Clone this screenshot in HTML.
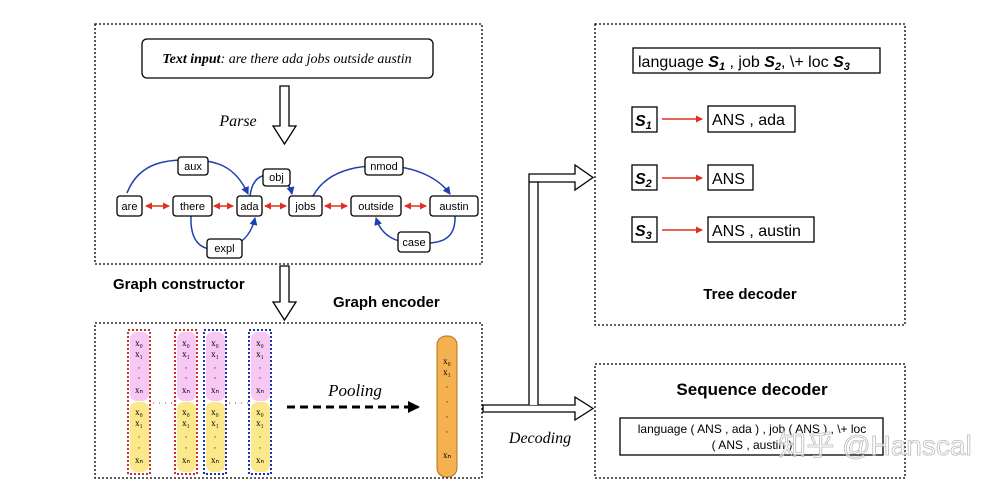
<!DOCTYPE html>
<html><head><meta charset="utf-8"><style>
body{margin:0;background:#fff;}
svg{display:block;font-family:"Liberation Sans",sans-serif;}
.n{fill:#fff;stroke:#000;stroke-width:1.3}
.t{font-size:11px;text-anchor:middle}
.b{fill:none;stroke:#1f3fb0;stroke-width:1.5}
.r{stroke:#e0301e;stroke-width:1.5}
.d{fill:none;stroke:#000;stroke-width:1.3;stroke-dasharray:2,2}
.x{font-size:9px;text-anchor:middle;font-family:"Liberation Serif",serif}
</style></head><body>
<svg width="1004" height="487" viewBox="0 0 1004 487">
<defs>
<marker id="ab" markerWidth="8" markerHeight="8" refX="7" refY="4" orient="auto" markerUnits="userSpaceOnUse"><path d="M0,0L8,4L0,8z" fill="#1f3fb0"/></marker>
<marker id="ar" markerWidth="7" markerHeight="7" refX="6" refY="3.5" orient="auto" markerUnits="userSpaceOnUse"><path d="M0,0L7,3.5L0,7z" fill="#e0301e"/></marker>
<marker id="ar2" markerWidth="7" markerHeight="7" refX="1" refY="3.5" orient="auto" markerUnits="userSpaceOnUse"><path d="M7,0L0,3.5L7,7z" fill="#e0301e"/></marker>
<marker id="ak" markerWidth="12" markerHeight="12" refX="10" refY="6" orient="auto" markerUnits="userSpaceOnUse"><path d="M0,0L12,6L0,12z" fill="#000"/></marker>
</defs>
<rect x="95" y="24" width="387" height="240" class="d"/>
<rect x="142" y="39" width="291" height="39" rx="5" class="n"/>
<text x="287" y="63" font-size="14" text-anchor="middle" font-family="Liberation Serif,serif" font-style="italic"><tspan font-weight="bold">Text input</tspan>: are there ada jobs outside austin</text>
<text x="238" y="126" font-size="16" text-anchor="middle" font-family="Liberation Serif,serif" font-style="italic">Parse</text>
<path d="M280,86h9v40h7l-11.5,18l-11.5,-18h7z" fill="#fff" stroke="#000" stroke-width="1.3"/>
<path class="b" d="M127,193 C140,160 170,160 190,160 C215,160 235,165 248,194" marker-end="url(#ab)"/>
<path class="b" d="M250,196 C252,180 260,172 276,176 C285,180 290,185 292,194" marker-end="url(#ab)"/>
<path class="b" d="M313,196 C330,165 370,165 390,166 C420,168 440,180 450,194" marker-end="url(#ab)"/>
<path class="b" d="M191,216 C190,240 200,250 215,249 C235,249 250,240 255,218" marker-end="url(#ab)"/>
<path class="b" d="M455,216 C456,240 440,244 420,243 C400,243 383,240 376,218" marker-end="url(#ab)"/>
<g class="r" marker-start="url(#ar2)" marker-end="url(#ar)">
<line x1="146" y1="206" x2="169" y2="206"/><line x1="214" y1="206" x2="233" y2="206"/>
<line x1="265" y1="206" x2="286" y2="206"/><line x1="325" y1="206" x2="347" y2="206"/>
<line x1="405" y1="206" x2="426" y2="206"/>
</g>
<g>
<rect x="117" y="196" width="25" height="20" rx="3" class="n"/><text x="129.5" y="210" class="t">are</text>
<rect x="173" y="196" width="39" height="20" rx="3" class="n"/><text x="192.5" y="210" class="t">there</text>
<rect x="237" y="196" width="25" height="20" rx="3" class="n"/><text x="249.5" y="210" class="t">ada</text>
<rect x="289" y="196" width="33" height="20" rx="3" class="n"/><text x="305.5" y="210" class="t">jobs</text>
<rect x="351" y="196" width="50" height="20" rx="3" class="n"/><text x="376" y="210" class="t">outside</text>
<rect x="430" y="196" width="48" height="20" rx="3" class="n"/><text x="454" y="210" class="t">austin</text>
<rect x="178" y="157" width="30" height="18" rx="3" class="n"/><text x="193" y="170" class="t">aux</text>
<rect x="263" y="169" width="27" height="17" rx="3" class="n"/><text x="276.5" y="181" class="t">obj</text>
<rect x="365" y="157" width="38" height="18" rx="3" class="n"/><text x="384" y="170" class="t">nmod</text>
<rect x="207" y="239" width="35" height="19" rx="3" class="n"/><text x="224.5" y="252" class="t">expl</text>
<rect x="398" y="232" width="32" height="20" rx="3" class="n"/><text x="414" y="246" class="t">case</text>
</g>
<text x="113" y="289" font-size="15" font-weight="bold">Graph constructor</text>
<path d="M280,266h9v36h7l-11.5,18l-11.5,-18h7z" fill="#fff" stroke="#000" stroke-width="1.3"/>
<text x="333" y="307" font-size="15" font-weight="bold">Graph encoder</text>
<rect x="95" y="323" width="387" height="155" class="d"/>
<g>
<rect x="130" y="332" width="19" height="69" rx="7" fill="#f6c8f3"/><rect x="130" y="402" width="19" height="70" rx="7" fill="#fbe88a"/>
<rect x="177" y="332" width="19" height="69" rx="7" fill="#f6c8f3"/><rect x="177" y="402" width="19" height="70" rx="7" fill="#fbe88a"/>
<rect x="206" y="332" width="19" height="69" rx="7" fill="#f6c8f3"/><rect x="206" y="402" width="19" height="70" rx="7" fill="#fbe88a"/>
<rect x="251" y="332" width="19" height="69" rx="7" fill="#f6c8f3"/><rect x="251" y="402" width="19" height="70" rx="7" fill="#fbe88a"/>
<rect x="128" y="330" width="22" height="144" fill="none" stroke="#d0302a" stroke-width="2" stroke-dasharray="2,2"/>
<rect x="175" y="330" width="22" height="144" fill="none" stroke="#d0302a" stroke-width="2" stroke-dasharray="2,2"/>
<rect x="204" y="330" width="22" height="144" fill="none" stroke="#2030b0" stroke-width="2" stroke-dasharray="2,2"/>
<rect x="249" y="330" width="22" height="144" fill="none" stroke="#2030b0" stroke-width="2" stroke-dasharray="2,2"/>
</g>
<g class="x">
<text x="139" y="346">x₀</text><text x="139" y="357">x₁</text><text x="139" y="371">·</text><text x="139" y="381">·</text><text x="139" y="393">xₙ</text>
<text x="139" y="415">x₀</text><text x="139" y="426">x₁</text><text x="139" y="440">·</text><text x="139" y="451">·</text><text x="139" y="463">xₙ</text>
<text x="186" y="346">x₀</text><text x="186" y="357">x₁</text><text x="186" y="371">·</text><text x="186" y="381">·</text><text x="186" y="393">xₙ</text>
<text x="186" y="415">x₀</text><text x="186" y="426">x₁</text><text x="186" y="440">·</text><text x="186" y="451">·</text><text x="186" y="463">xₙ</text>
<text x="215" y="346">x₀</text><text x="215" y="357">x₁</text><text x="215" y="371">·</text><text x="215" y="381">·</text><text x="215" y="393">xₙ</text>
<text x="215" y="415">x₀</text><text x="215" y="426">x₁</text><text x="215" y="440">·</text><text x="215" y="451">·</text><text x="215" y="463">xₙ</text>
<text x="260" y="346">x₀</text><text x="260" y="357">x₁</text><text x="260" y="371">·</text><text x="260" y="381">·</text><text x="260" y="393">xₙ</text>
<text x="260" y="415">x₀</text><text x="260" y="426">x₁</text><text x="260" y="440">·</text><text x="260" y="451">·</text><text x="260" y="463">xₙ</text>
</g>
<line x1="153" y1="403" x2="173" y2="403" stroke="#555" stroke-dasharray="1,5"/>
<line x1="229" y1="403" x2="248" y2="403" stroke="#555" stroke-dasharray="1,5"/>
<rect x="437" y="336" width="20" height="141" rx="9" fill="#f5b050" stroke="#b07020" stroke-width="1"/>
<g class="x"><text x="447" y="364">x₀</text><text x="447" y="375">x₁</text><text x="447" y="390">·</text><text x="447" y="405">·</text><text x="447" y="420">·</text><text x="447" y="435">·</text><text x="447" y="458">xₙ</text></g>
<text x="355" y="396" font-size="17" text-anchor="middle" font-family="Liberation Serif,serif" font-style="italic">Pooling</text>
<line x1="287" y1="407" x2="418" y2="407" stroke="#000" stroke-width="3" stroke-dasharray="8,5" marker-end="url(#ak)"/>
<path d="M483,405H575V397L593,408.5L575,420V412H483z" fill="#fff" stroke="#000" stroke-width="1.3"/>
<path d="M529,405V174H575V165L593,177.5L575,190V182H538V405" fill="#fff" stroke="#000" stroke-width="1.3"/>
<line x1="529" y1="182" x2="538" y2="182" stroke="#000" stroke-width="1.3"/>
<text x="540" y="443" font-size="16" text-anchor="middle" font-family="Liberation Serif,serif" font-style="italic">Decoding</text>
<rect x="595" y="24" width="310" height="301" class="d"/>
<rect x="633" y="48" width="247" height="25" fill="#fff" stroke="#000" stroke-width="1.3"/>
<text x="638" y="67" font-size="16">language <tspan font-weight="bold" font-style="italic">S<tspan font-size="11" baseline-shift="-3">1</tspan></tspan> , job <tspan font-weight="bold" font-style="italic">S<tspan font-size="11" baseline-shift="-3">2</tspan></tspan>, \+ loc <tspan font-weight="bold" font-style="italic">S<tspan font-size="11" baseline-shift="-3">3</tspan></tspan></text>
<g font-size="16">
<rect x="632" y="107" width="25" height="25" fill="#fff" stroke="#000" stroke-width="1.3"/><text x="635" y="126" font-weight="bold" font-style="italic">S<tspan font-size="11" baseline-shift="-3">1</tspan></text>
<rect x="708" y="106" width="87" height="26" fill="#fff" stroke="#000" stroke-width="1.3"/><text x="712" y="125">ANS , ada</text>
<rect x="632" y="165" width="25" height="25" fill="#fff" stroke="#000" stroke-width="1.3"/><text x="635" y="184" font-weight="bold" font-style="italic">S<tspan font-size="11" baseline-shift="-3">2</tspan></text>
<rect x="708" y="165" width="45" height="25" fill="#fff" stroke="#000" stroke-width="1.3"/><text x="712" y="184">ANS</text>
<rect x="632" y="217" width="25" height="25" fill="#fff" stroke="#000" stroke-width="1.3"/><text x="635" y="236" font-weight="bold" font-style="italic">S<tspan font-size="11" baseline-shift="-3">3</tspan></text>
<rect x="708" y="217" width="106" height="25" fill="#fff" stroke="#000" stroke-width="1.3"/><text x="712" y="236">ANS  , austin</text>
</g>
<g class="r" marker-end="url(#ar)"><line x1="662" y1="119" x2="702" y2="119"/><line x1="662" y1="178" x2="702" y2="178"/><line x1="662" y1="230" x2="702" y2="230"/></g>
<text x="750" y="299" font-size="15" font-weight="bold" text-anchor="middle">Tree decoder</text>
<rect x="595" y="364" width="310" height="114" class="d"/>
<text x="752" y="395" font-size="17" font-weight="bold" text-anchor="middle">Sequence decoder</text>
<rect x="620" y="418" width="263" height="37" fill="#fff" stroke="#000" stroke-width="1.3"/>
<text x="752" y="433" font-size="12" text-anchor="middle">language ( ANS , ada ) , job ( ANS ) , \+ loc</text>
<text x="752" y="449" font-size="12" text-anchor="middle">( ANS , austin )</text>
<text x="875" y="455" font-size="28" text-anchor="middle" fill="#fff" fill-opacity="0.6" stroke="#bbb" stroke-width="0.8" font-family="Liberation Sans,'Noto Sans CJK SC',sans-serif">知乎 @Hanscal</text>
</svg>
</body></html>
